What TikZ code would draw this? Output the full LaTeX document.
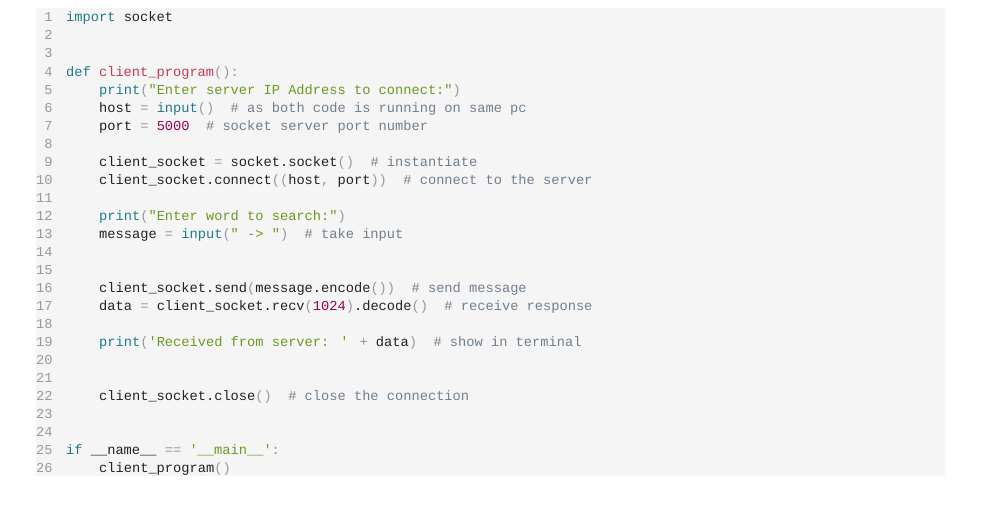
\documentclass[tikz,border=0pt]{standalone}
\usepackage{fontspec}
\usepackage{xcolor}
\newfontfamily\codefont{Liberation Mono}
\definecolor{codebg}{HTML}{F5F5F5}
\definecolor{kwcol}{HTML}{1F7A8C}
\definecolor{fncol}{HTML}{C23A55}
\definecolor{strcol}{HTML}{6A9A1F}
\definecolor{numcol}{HTML}{990055}
\definecolor{cmtcol}{HTML}{708090}
\definecolor{pncol}{HTML}{999999}
\definecolor{txtcol}{HTML}{222222}
\newcommand{\kw}[1]{\textcolor{kwcol}{#1}}
\newcommand{\fn}[1]{\textcolor{fncol}{#1}}
\newcommand{\str}[1]{\textcolor{strcol}{#1}}
\newcommand{\num}[1]{\textcolor{numcol}{#1}}
\newcommand{\cmt}[1]{\textcolor{cmtcol}{#1}}
\newcommand{\pn}[1]{\textcolor{pncol}{#1}}

\begin{document}
\begin{tikzpicture}[x=1pt,y=1pt,
  code/.style={anchor=base west,inner sep=0pt,font=\codefont\fontsize{13.7}{16}\selectfont,text=txtcol},
  lnum/.style={code,text=pncol}]
\useasboundingbox (0,0) rectangle (982,-511);
\fill[codebg] (36,-8) rectangle (945,-476);
% line numbers
\foreach \i in {1,...,26} {
  \node[lnum] (n\i) at (36,{-22-18*(\i-1)}) {\ifnum\i<10 \phantom{0}\fi\i};
}
% code lines, top level at 66, body at 99
\node[code] (l1) at (66,-22) {\kw{import} socket};
\node[code] (l4) at (66,-76) {\kw{def} \fn{client\_program}\pn{():}};
\node[code] (l5) at (99,-94) {\kw{print}\pn{(}\str{"Enter server IP Address to connect:"}\pn{)}};
\node[code] (l6) at (99,-112) {host \pn{=} \kw{input}\pn{()}~~\cmt{\# as both code is running on same pc}};
\node[code] (l7) at (99,-130) {port \pn{=} \num{5000}~~\cmt{\# socket server port number}};
\node[code] (l9) at (99,-166) {client\_socket \pn{=} socket.socket\pn{()}~~\cmt{\# instantiate}};
\node[code] (l10) at (99,-184) {client\_socket.connect\pn{((}host\pn{,} port\pn{))}~~\cmt{\# connect to the server}};
\node[code] (l12) at (99,-220) {\kw{print}\pn{(}\str{"Enter word to search:"}\pn{)}};
\node[code] (l13) at (99,-238) {message \pn{=} \kw{input}\pn{(}\str{" -> "}\pn{)}~~\cmt{\# take input}};
\node[code] (l16) at (99,-292) {client\_socket.send\pn{(}message.encode\pn{())}~~\cmt{\# send message}};
\node[code] (l17) at (99,-310) {data \pn{=} client\_socket.recv\pn{(}\num{1024}\pn{)}.decode\pn{()}~~\cmt{\# receive response}};
\node[code] (l19) at (99,-346) {\kw{print}\pn{(}\str{'Received from server: '} \pn{+} data\pn{)}~~\cmt{\# show in terminal}};
\node[code] (l22) at (99,-400) {client\_socket.close\pn{()}~~\cmt{\# close the connection}};
\node[code] (l25) at (66,-454) {\kw{if} \_\_name\_\_ \pn{==} \str{'\_\_main\_\_'}\pn{:}};
\node[code] (l26) at (99,-472) {client\_program\pn{()}};
\end{tikzpicture}
\end{document}
